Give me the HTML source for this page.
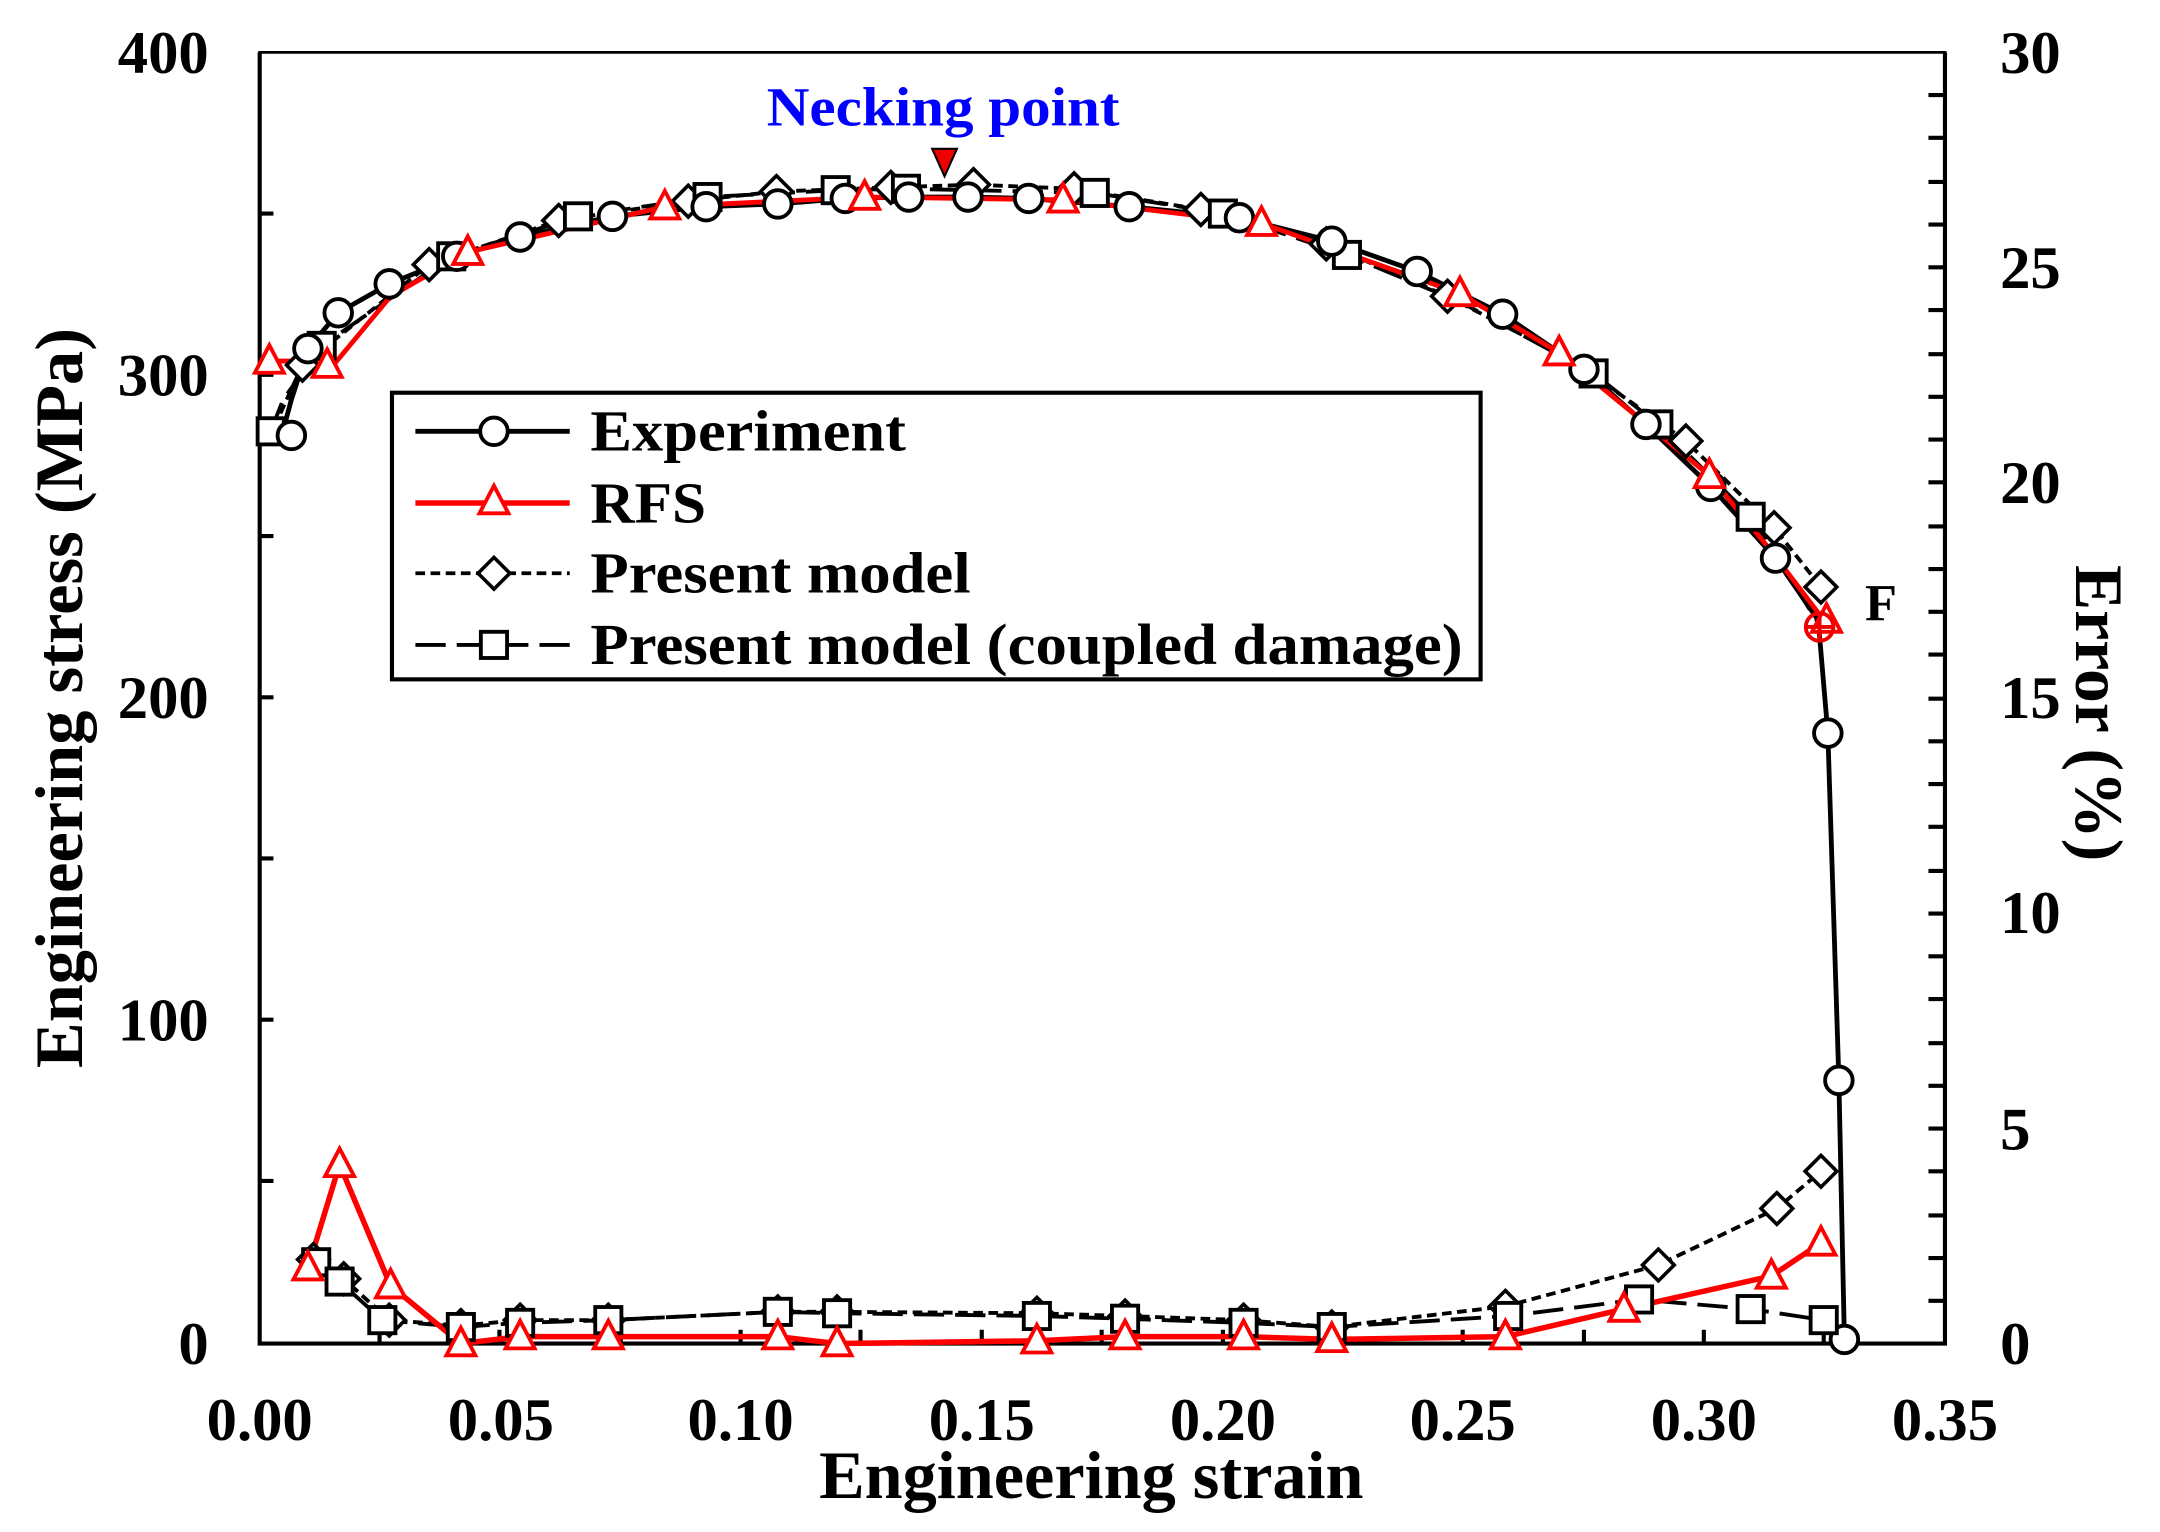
<!DOCTYPE html>
<html><head><meta charset="utf-8"><style>html,body{margin:0;padding:0;background:#fff}svg{display:block}</style></head>
<body>
<svg width="2160" height="1532" viewBox="0 0 2160 1532" xmlns="http://www.w3.org/2000/svg">
<defs>
<g id="c"><circle r="10" fill="#fff" stroke="#000" stroke-width="2.8"/></g>
<g id="t"><path d="M0,-11.5 L10.5,8.5 L-10.5,8.5 Z" fill="#fff" stroke="#f00" stroke-width="2.8"/></g>
<g id="d"><path d="M0,-11.5 L11.5,0 L0,11.5 L-11.5,0 Z" fill="#fff" stroke="#000" stroke-width="2.6"/></g>
<g id="s"><rect x="-9.5" y="-9.5" width="19" height="19" fill="#fff" stroke="#000" stroke-width="2.8"/></g>
</defs>
<g transform="translate(2,0) scale(1.378)" font-family="Liberation Serif, serif" font-weight="bold">
<path d="M187,38 H1410 V975 H187 Z" fill="none" stroke="#000" stroke-width="2"/>
<path d="M187,38 V975 H1410 V38" fill="none" stroke="#000" stroke-width="3"/>
<g stroke="#000" stroke-width="3">
<path d="M187,155H197M187,272H197M187,389H197M187,506H197M187,623H197M187,740H197M187,857H197"/>
<path d="M274,975V965M361,975V965M449,975V965M536,975V965M623,975V965M711,975V965M798,975V965M886,975V965M973,975V965M1060,975V965M1148,975V965M1235,975V965M1322,975V965"/>
<path d="M1410,69H1398M1410,100H1398M1410,132H1398M1410,163H1398M1410,194H1398M1410,225H1398M1410,257H1398M1410,288H1398M1410,319H1398M1410,350H1398M1410,382H1398M1410,413H1398M1410,444H1398M1410,475H1398M1410,507H1398M1410,538H1398M1410,569H1398M1410,600H1398M1410,632H1398M1410,663H1398M1410,694H1398M1410,725H1398M1410,757H1398M1410,788H1398M1410,819H1398M1410,850H1398M1410,882H1398M1410,913H1398M1410,944H1398"/>
</g>
<g font-size="44" text-anchor="end">
<text x="150" y="53">400</text><text x="150" y="287">300</text><text x="150" y="521">200</text><text x="150" y="755">100</text><text x="150" y="990">0</text>
</g>
<g font-size="44" text-anchor="start">
<text x="1450" y="53">30</text><text x="1450" y="209">25</text><text x="1450" y="365">20</text><text x="1450" y="521">15</text><text x="1450" y="677">10</text><text x="1450" y="834">5</text><text x="1450" y="990">0</text>
</g>
<g font-size="44" text-anchor="middle">
<text x="187" y="1045">0.00</text><text x="362" y="1045">0.05</text><text x="536" y="1045">0.10</text><text x="711" y="1045">0.15</text><text x="886" y="1045">0.20</text><text x="1060" y="1045">0.25</text><text x="1235" y="1045">0.30</text><text x="1410" y="1045">0.35</text>
</g>
<text x="593" y="1087" font-size="49" textLength="395" lengthAdjust="spacingAndGlyphs">Engineering strain</text>
<text transform="translate(58,775) rotate(-90)" font-size="49" textLength="537" lengthAdjust="spacingAndGlyphs">Engineering stress (MPa)</text>
<text transform="translate(1505,410) rotate(90)" font-size="49" textLength="215" lengthAdjust="spacingAndGlyphs">Error (%)</text>
<text x="555" y="91" font-size="40" fill="#0000ff" textLength="256" lengthAdjust="spacingAndGlyphs">Necking point</text>
<path d="M675,108 L693,108 L684,128 Z" fill="#e00" stroke="#000" stroke-width="1.5"/>
<text x="1352" y="450" font-size="38">F</text>

<polyline fill="none" stroke="#000" stroke-width="2.8" stroke-dasharray="7,4" points="202,300 218,265 310,192 404,160 498,146 562,139 645,136 705,134 778,137 870,152 961,177 1049,215 1140,262 1222,320 1286,383 1320,426"/>
<polyline fill="none" stroke="#000" stroke-width="2.8" stroke-dasharray="22,8" points="195,313 204,290 232,251 326,186 418,157 512,143 605,138 656,137 793,140 886,155 976,185 1060,220 1155,271 1202,308 1269,375 1318,452"/>
<polyline fill="none" stroke="#000" stroke-width="3.5" points="203,316 210,290 222,253 244,227 281,206 330,186 376,172 443,157 511,150 563,148 612,144 658,143 701,143 745,144 818,150 898,158 965,175 1027,197 1089,228 1148,268 1193,308 1240,353 1287,405 1318,450 1325,532 1333,784 1337,972"/>
<polyline fill="none" stroke="#f00" stroke-width="3.5" points="194,262 225,262 238,268 282,215 338,183 481,150 626,143 770,145 914,162 1058,213 1130,256 1239,345 1284,400 1322,450"/>
<g>
<use href="#d" x="218" y="265"/><use href="#d" x="310" y="192"/><use href="#d" x="404" y="160"/><use href="#d" x="498" y="146"/><use href="#d" x="562" y="139"/><use href="#d" x="645" y="136"/><use href="#d" x="705" y="134"/><use href="#d" x="778" y="137"/><use href="#d" x="870" y="152"/><use href="#d" x="961" y="177"/><use href="#d" x="1049" y="215"/><use href="#d" x="1222" y="320"/><use href="#d" x="1286" y="383"/><use href="#d" x="1320" y="426"/>
<use href="#s" x="195" y="313"/><use href="#s" x="232" y="251"/><use href="#s" x="326" y="186"/><use href="#s" x="418" y="157"/><use href="#s" x="512" y="143"/><use href="#s" x="605" y="138"/><use href="#s" x="656" y="137"/><use href="#s" x="793" y="140"/><use href="#s" x="886" y="155"/><use href="#s" x="976" y="185"/><use href="#s" x="1155" y="271"/><use href="#s" x="1202" y="308"/><use href="#s" x="1269" y="375"/>
<use href="#c" x="210" y="316"/><use href="#c" x="222" y="253"/><use href="#c" x="244" y="227"/><use href="#c" x="281" y="206"/><use href="#c" x="330" y="186"/><use href="#c" x="376" y="172"/><use href="#c" x="443" y="157"/><use href="#c" x="511" y="150"/><use href="#c" x="563" y="148"/><use href="#c" x="612" y="144"/><use href="#c" x="658" y="143"/><use href="#c" x="701" y="143"/><use href="#c" x="745" y="144"/><use href="#c" x="818" y="150"/><use href="#c" x="898" y="158"/><use href="#c" x="965" y="175"/><use href="#c" x="1027" y="197"/><use href="#c" x="1089" y="228"/><use href="#c" x="1148" y="268"/><use href="#c" x="1193" y="308"/><use href="#c" x="1240" y="353"/><use href="#c" x="1287" y="405"/><use href="#c" x="1325" y="532"/><use href="#c" x="1333" y="784"/><use href="#c" x="1337" y="972"/>
<use href="#t" x="194" y="262"/><use href="#t" x="236" y="265"/><use href="#t" x="338" y="183"/><use href="#t" x="481" y="150"/><use href="#t" x="626" y="143"/><use href="#t" x="770" y="145"/><use href="#t" x="914" y="162"/><use href="#t" x="1058" y="213"/><use href="#t" x="1130" y="256"/><use href="#t" x="1239" y="345"/><use href="#t" x="1324" y="450"/>
</g>
<g stroke="#e00" stroke-width="2.8" fill="none"><circle cx="1319" cy="455" r="10"/><path d="M1309,455H1329M1319,445V465"/></g>

<polyline fill="none" stroke="#000" stroke-width="2.8" stroke-dasharray="7,4" points="226,914 248,928 281,958 333,962 376,958 440,958 563,952 606,952 751,953 815,955 901,958 965,963 1091,948 1202,918 1288,877 1320,850"/>
<polyline fill="none" stroke="#000" stroke-width="2.8" stroke-dasharray="22,8" points="228,916 245,930 276,958 333,963 376,960 440,958 563,952 606,953 751,955 815,957 901,960 965,963 1093,955 1188,943 1269,950 1322,958"/>
<polyline fill="none" stroke="#f00" stroke-width="4" points="222,920 245,845 282,933 333,975 376,970 440,970 563,970 606,975 751,973 815,970 901,970 965,972 1091,970 1177,950 1284,926 1320,902"/>
<g>
<use href="#d" x="226" y="914"/><use href="#d" x="248" y="928"/><use href="#d" x="281" y="958"/><use href="#d" x="333" y="962"/><use href="#d" x="376" y="958"/><use href="#d" x="440" y="958"/><use href="#d" x="563" y="952"/><use href="#d" x="606" y="952"/><use href="#d" x="751" y="953"/><use href="#d" x="815" y="955"/><use href="#d" x="901" y="958"/><use href="#d" x="965" y="963"/><use href="#d" x="1091" y="948"/><use href="#d" x="1202" y="918"/><use href="#d" x="1288" y="877"/><use href="#d" x="1320" y="850"/>
<use href="#s" x="228" y="916"/><use href="#s" x="245" y="930"/><use href="#s" x="276" y="958"/><use href="#s" x="333" y="963"/><use href="#s" x="376" y="960"/><use href="#s" x="440" y="958"/><use href="#s" x="563" y="952"/><use href="#s" x="606" y="953"/><use href="#s" x="751" y="955"/><use href="#s" x="815" y="957"/><use href="#s" x="901" y="960"/><use href="#s" x="965" y="963"/><use href="#s" x="1093" y="955"/><use href="#s" x="1188" y="943"/><use href="#s" x="1269" y="950"/><use href="#s" x="1322" y="958"/>
<use href="#t" x="222" y="920"/><use href="#t" x="245" y="845"/><use href="#t" x="282" y="933"/><use href="#t" x="333" y="975"/><use href="#t" x="376" y="970"/><use href="#t" x="440" y="970"/><use href="#t" x="563" y="970"/><use href="#t" x="606" y="975"/><use href="#t" x="751" y="973"/><use href="#t" x="815" y="970"/><use href="#t" x="901" y="970"/><use href="#t" x="965" y="972"/><use href="#t" x="1091" y="970"/><use href="#t" x="1177" y="950"/><use href="#t" x="1284" y="926"/><use href="#t" x="1320" y="902"/>
</g>

<rect x="283" y="285" width="790" height="208" fill="#fff" stroke="#000" stroke-width="3"/>
<line x1="300" y1="313" x2="412" y2="313" stroke="#000" stroke-width="3.5"/><use href="#c" x="357" y="313"/>
<line x1="300" y1="365" x2="412" y2="365" stroke="#f00" stroke-width="4"/><use href="#t" x="357" y="364"/>
<line x1="300" y1="416" x2="412" y2="416" stroke="#000" stroke-width="2.8" stroke-dasharray="7,4"/><use href="#d" x="357" y="416"/>
<line x1="300" y1="468" x2="412" y2="468" stroke="#000" stroke-width="2.8" stroke-dasharray="22,8"/><use href="#s" x="357" y="468"/>
<g font-size="42">
<text x="427" y="327" textLength="229" lengthAdjust="spacingAndGlyphs">Experiment</text>
<text x="427" y="379" textLength="84" lengthAdjust="spacingAndGlyphs">RFS</text>
<text x="427" y="430" textLength="276" lengthAdjust="spacingAndGlyphs">Present model</text>
<text x="427" y="482" textLength="633" lengthAdjust="spacingAndGlyphs">Present model (coupled damage)</text>
</g>
</g>
</svg>
</body></html>
